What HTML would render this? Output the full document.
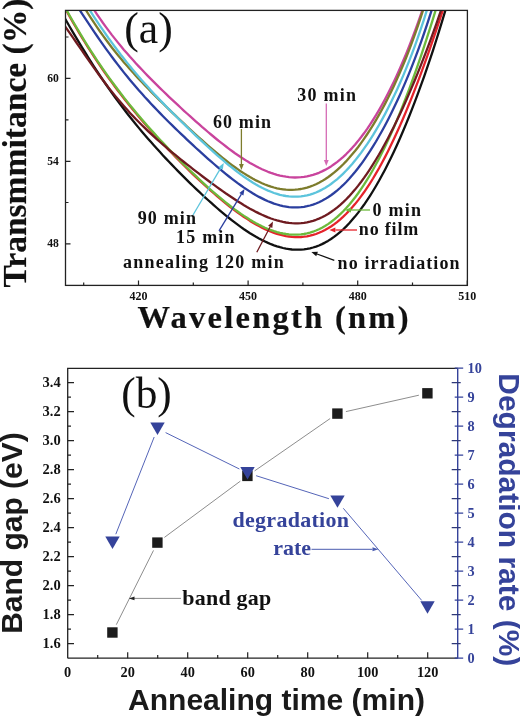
<!DOCTYPE html>
<html><head><meta charset="utf-8"><title>Figure</title>
<style>html,body{margin:0;padding:0;background:#fff;}svg{display:block}.s{font-family:"Liberation Serif",serif;}.sb{font-family:"Liberation Serif",serif;font-weight:bold;}.a{font-family:"Liberation Sans",sans-serif;font-weight:bold;}</style></head><body>
<svg width="520" height="717" viewBox="0 0 520 717">
<rect width="520" height="717" fill="#ffffff"/>
<clipPath id="c1"><rect x="65.5" y="10.4" width="401.9" height="275.0"/></clipPath>
<g clip-path="url(#c1)" fill="none" stroke-width="2.3" stroke-linejoin="round">
<path d="M55.0,1.4 L58.0,6.6 L61.0,11.7 L64.0,16.9 L67.0,22.0 L70.0,27.2 L73.0,32.3 L76.0,37.3 L79.0,42.3 L82.0,47.3 L85.0,52.2 L88.0,57.0 L91.0,61.8 L94.0,66.5 L97.0,71.1 L100.0,75.6 L103.0,80.1 L106.0,84.5 L109.0,88.8 L112.0,93.1 L115.0,97.2 L118.0,101.3 L121.0,105.3 L124.0,109.3 L127.0,113.2 L130.0,117.0 L133.0,120.8 L136.0,124.4 L139.0,128.1 L142.0,131.7 L145.0,135.2 L148.0,138.7 L151.0,142.1 L154.0,145.5 L157.0,148.8 L160.0,152.1 L163.0,155.4 L166.0,158.6 L169.0,161.8 L172.0,164.9 L175.0,168.0 L178.0,171.1 L181.0,174.1 L184.0,177.1 L187.0,180.1 L190.0,183.1 L193.0,186.0 L196.0,188.9 L199.0,191.7 L202.0,194.5 L205.0,197.3 L208.0,200.0 L211.0,202.7 L214.0,205.4 L217.0,208.0 L220.0,210.6 L223.0,213.1 L226.0,215.6 L229.0,218.0 L232.0,220.4 L235.0,222.7 L238.0,224.9 L241.0,227.1 L244.0,229.2 L247.0,231.2 L250.0,233.2 L253.0,235.0 L256.0,236.8 L259.0,238.5 L262.0,240.1 L265.0,241.5 L268.0,242.9 L271.0,244.2 L274.0,245.3 L277.0,246.3 L280.0,247.2 L283.0,248.0 L286.0,248.7 L289.0,249.1 L292.0,249.5 L295.0,249.7 L298.0,249.7 L301.0,249.6 L304.0,249.4 L307.0,248.9 L310.0,248.3 L313.0,247.5 L316.0,246.6 L319.0,245.5 L322.0,244.1 L325.0,242.6 L328.0,240.9 L331.0,239.0 L334.0,236.9 L337.0,234.6 L340.0,232.2 L343.0,229.5 L346.0,226.6 L349.0,223.5 L352.0,220.1 L355.0,216.6 L358.0,212.9 L361.0,208.9 L364.0,204.8 L367.0,200.4 L370.0,195.8 L373.0,191.0 L376.0,186.0 L379.0,180.8 L382.0,175.3 L385.0,169.7 L388.0,163.8 L391.0,157.7 L394.0,151.4 L397.0,144.9 L400.0,138.2 L403.0,131.3 L406.0,124.1 L409.0,116.8 L412.0,109.2 L415.0,101.4 L418.0,93.4 L421.0,85.2 L424.0,76.8 L427.0,68.2 L430.0,59.3 L433.0,50.3 L436.0,41.0 L439.0,31.4 L442.0,21.7 L445.0,11.7 L448.0,1.5 L451.0,-9.0 L454.0,-19.7 L457.0,-30.7" stroke="#111111"/>
<path d="M55.0,-10.3 L58.0,-4.7 L61.0,0.9 L64.0,6.4 L67.0,11.8 L70.0,17.1 L73.0,22.4 L76.0,27.5 L79.0,32.6 L82.0,37.6 L85.0,42.5 L88.0,47.3 L91.0,52.0 L94.0,56.6 L97.0,61.2 L100.0,65.6 L103.0,70.0 L106.0,74.3 L109.0,78.5 L112.0,82.6 L115.0,86.7 L118.0,90.7 L121.0,94.6 L124.0,98.5 L127.0,102.3 L130.0,106.0 L133.0,109.7 L136.0,113.3 L139.0,116.9 L142.0,120.4 L145.0,123.9 L148.0,127.3 L151.0,130.7 L154.0,134.0 L157.0,137.3 L160.0,140.6 L163.0,143.8 L166.0,147.0 L169.0,150.2 L172.0,153.3 L175.0,156.4 L178.0,159.4 L181.0,162.5 L184.0,165.5 L187.0,168.4 L190.0,171.4 L193.0,174.3 L196.0,177.1 L199.0,179.9 L202.0,182.7 L205.0,185.5 L208.0,188.2 L211.0,190.9 L214.0,193.5 L217.0,196.1 L220.0,198.6 L223.0,201.1 L226.0,203.6 L229.0,206.0 L232.0,208.3 L235.0,210.5 L238.0,212.7 L241.0,214.9 L244.0,217.0 L247.0,218.9 L250.0,220.9 L253.0,222.7 L256.0,224.4 L259.0,226.1 L262.0,227.7 L265.0,229.1 L268.0,230.5 L271.0,231.7 L274.0,232.8 L277.0,233.8 L280.0,234.7 L283.0,235.4 L286.0,236.1 L289.0,236.5 L292.0,236.9 L295.0,237.1 L298.0,237.1 L301.0,237.0 L304.0,236.7 L307.0,236.3 L310.0,235.7 L313.0,234.9 L316.0,234.0 L319.0,232.8 L322.0,231.5 L325.0,230.0 L328.0,228.3 L331.0,226.5 L334.0,224.4 L337.0,222.1 L340.0,219.6 L343.0,216.9 L346.0,214.0 L349.0,210.9 L352.0,207.6 L355.0,204.1 L358.0,200.4 L361.0,196.4 L364.0,192.3 L367.0,187.9 L370.0,183.3 L373.0,178.5 L376.0,173.4 L379.0,168.2 L382.0,162.7 L385.0,157.1 L388.0,151.2 L391.0,145.1 L394.0,138.8 L397.0,132.3 L400.0,125.6 L403.0,118.7 L406.0,111.6 L409.0,104.3 L412.0,96.9 L415.0,89.2 L418.0,81.4 L421.0,73.4 L424.0,65.2 L427.0,56.9 L430.0,48.4 L433.0,39.7 L436.0,30.9 L439.0,22.0 L442.0,13.0 L445.0,3.8 L448.0,-5.5 L451.0,-14.9 L454.0,-24.4 L457.0,-34.0" stroke="#e5232b"/>
<path d="M55.0,-11.2 L58.0,-5.6 L61.0,-0.0 L64.0,5.5 L67.0,10.9 L70.0,16.2 L73.0,21.5 L76.0,26.6 L79.0,31.7 L82.0,36.7 L85.0,41.6 L88.0,46.4 L91.0,51.1 L94.0,55.7 L97.0,60.3 L100.0,64.7 L103.0,69.1 L106.0,73.4 L109.0,77.6 L112.0,81.7 L115.0,85.8 L118.0,89.8 L121.0,93.7 L124.0,97.6 L127.0,101.4 L130.0,105.1 L133.0,108.8 L136.0,112.4 L139.0,116.0 L142.0,119.5 L145.0,123.0 L148.0,126.4 L151.0,129.8 L154.0,133.1 L157.0,136.4 L160.0,139.7 L163.0,142.9 L166.0,146.1 L169.0,149.3 L172.0,152.4 L175.0,155.5 L178.0,158.5 L181.0,161.6 L184.0,164.6 L187.0,167.5 L190.0,170.5 L193.0,173.4 L196.0,176.2 L199.0,179.0 L202.0,181.8 L205.0,184.6 L208.0,187.3 L211.0,190.0 L214.0,192.6 L217.0,195.2 L220.0,197.7 L223.0,200.2 L226.0,202.6 L229.0,205.0 L232.0,207.3 L235.0,209.6 L238.0,211.7 L241.0,213.9 L244.0,215.9 L247.0,217.8 L250.0,219.7 L253.0,221.5 L256.0,223.2 L259.0,224.8 L262.0,226.3 L265.0,227.7 L268.0,229.0 L271.0,230.1 L274.0,231.2 L277.0,232.1 L280.0,232.9 L283.0,233.5 L286.0,234.0 L289.0,234.4 L292.0,234.6 L295.0,234.7 L298.0,234.6 L301.0,234.4 L304.0,234.0 L307.0,233.4 L310.0,232.6 L313.0,231.7 L316.0,230.5 L319.0,229.2 L322.0,227.7 L325.0,226.0 L328.0,224.1 L331.0,222.0 L334.0,219.7 L337.0,217.2 L340.0,214.4 L343.0,211.5 L346.0,208.3 L349.0,204.9 L352.0,201.3 L355.0,197.5 L358.0,193.5 L361.0,189.2 L364.0,184.7 L367.0,179.9 L370.0,175.0 L373.0,169.8 L376.0,164.3 L379.0,158.7 L382.0,152.8 L385.0,146.7 L388.0,140.3 L391.0,133.8 L394.0,127.0 L397.0,119.9 L400.0,112.7 L403.0,105.2 L406.0,97.5 L409.0,89.6 L412.0,81.5 L415.0,73.1 L418.0,64.6 L421.0,55.8 L424.0,46.9 L427.0,37.7 L430.0,28.3 L433.0,18.8 L436.0,9.0 L439.0,-1.0 L442.0,-11.1 L445.0,-21.4 L448.0,-31.9 L451.0,-42.6 L454.0,-53.5 L457.0,-64.5" stroke="#6cba3c"/>
<path d="M55.0,-24.9 L58.0,-21.1 L61.0,-17.2 L64.0,-13.0 L67.0,-8.8 L70.0,-4.4 L73.0,0.0 L76.0,4.5 L79.0,9.0 L82.0,13.6 L85.0,18.1 L88.0,22.6 L91.0,27.1 L94.0,31.6 L97.0,36.0 L100.0,40.3 L103.0,44.6 L106.0,48.8 L109.0,52.9 L112.0,57.0 L115.0,61.0 L118.0,64.9 L121.0,68.8 L124.0,72.6 L127.0,76.3 L130.0,79.9 L133.0,83.5 L136.0,87.0 L139.0,90.5 L142.0,93.8 L145.0,97.2 L148.0,100.4 L151.0,103.7 L154.0,106.9 L157.0,110.0 L160.0,113.1 L163.0,116.2 L166.0,119.2 L169.0,122.2 L172.0,125.1 L175.0,128.1 L178.0,131.0 L181.0,133.9 L184.0,136.7 L187.0,139.6 L190.0,142.4 L193.0,145.2 L196.0,148.0 L199.0,150.7 L202.0,153.4 L205.0,156.1 L208.0,158.8 L211.0,161.4 L214.0,164.0 L217.0,166.6 L220.0,169.1 L223.0,171.6 L226.0,174.1 L229.0,176.5 L232.0,178.8 L235.0,181.1 L238.0,183.4 L241.0,185.5 L244.0,187.6 L247.0,189.6 L250.0,191.6 L253.0,193.4 L256.0,195.2 L259.0,196.9 L262.0,198.4 L265.0,199.9 L268.0,201.2 L271.0,202.4 L274.0,203.6 L277.0,204.5 L280.0,205.4 L283.0,206.1 L286.0,206.6 L289.0,207.1 L292.0,207.3 L295.0,207.4 L298.0,207.4 L301.0,207.2 L304.0,206.8 L307.0,206.2 L310.0,205.5 L313.0,204.6 L316.0,203.5 L319.0,202.2 L322.0,200.7 L325.0,199.1 L328.0,197.2 L331.0,195.2 L334.0,193.0 L337.0,190.6 L340.0,188.0 L343.0,185.2 L346.0,182.2 L349.0,179.0 L352.0,175.6 L355.0,172.0 L358.0,168.2 L361.0,164.3 L364.0,160.1 L367.0,155.7 L370.0,151.2 L373.0,146.4 L376.0,141.5 L379.0,136.3 L382.0,131.0 L385.0,125.5 L388.0,119.7 L391.0,113.8 L394.0,107.6 L397.0,101.3 L400.0,94.7 L403.0,87.9 L406.0,80.9 L409.0,73.6 L412.0,66.1 L415.0,58.4 L418.0,50.4 L421.0,42.1 L424.0,33.5 L427.0,24.6 L430.0,15.4 L433.0,5.9 L436.0,-4.1 L439.0,-14.4 L442.0,-25.2 L445.0,-36.4 L448.0,-48.1 L451.0,-60.3 L454.0,-73.1 L457.0,-86.5" stroke="#2b3f9f"/>
<path d="M55.0,-64.7 L58.0,-57.8 L61.0,-51.1 L64.0,-44.6 L67.0,-38.3 L70.0,-32.3 L73.0,-26.4 L76.0,-20.7 L79.0,-15.2 L82.0,-9.9 L85.0,-4.8 L88.0,0.2 L91.0,5.1 L94.0,9.7 L97.0,14.3 L100.0,18.7 L103.0,23.0 L106.0,27.1 L109.0,31.1 L112.0,35.1 L115.0,38.9 L118.0,42.6 L121.0,46.3 L124.0,49.9 L127.0,53.3 L130.0,56.8 L133.0,60.1 L136.0,63.4 L139.0,66.6 L142.0,69.8 L145.0,73.0 L148.0,76.1 L151.0,79.1 L154.0,82.1 L157.0,85.1 L160.0,88.1 L163.0,91.0 L166.0,93.9 L169.0,96.8 L172.0,99.6 L175.0,102.4 L178.0,105.2 L181.0,108.0 L184.0,110.8 L187.0,113.5 L190.0,116.2 L193.0,118.9 L196.0,121.6 L199.0,124.2 L202.0,126.9 L205.0,129.4 L208.0,132.0 L211.0,134.5 L214.0,137.0 L217.0,139.5 L220.0,141.9 L223.0,144.2 L226.0,146.5 L229.0,148.8 L232.0,151.0 L235.0,153.2 L238.0,155.2 L241.0,157.3 L244.0,159.2 L247.0,161.1 L250.0,162.9 L253.0,164.6 L256.0,166.2 L259.0,167.8 L262.0,169.2 L265.0,170.5 L268.0,171.8 L271.0,172.9 L274.0,173.9 L277.0,174.8 L280.0,175.6 L283.0,176.2 L286.0,176.7 L289.0,177.1 L292.0,177.4 L295.0,177.5 L298.0,177.4 L301.0,177.2 L304.0,176.9 L307.0,176.4 L310.0,175.7 L313.0,174.9 L316.0,173.9 L319.0,172.8 L322.0,171.4 L325.0,169.9 L328.0,168.2 L331.0,166.4 L334.0,164.3 L337.0,162.1 L340.0,159.7 L343.0,157.1 L346.0,154.3 L349.0,151.3 L352.0,148.1 L355.0,144.7 L358.0,141.1 L361.0,137.3 L364.0,133.3 L367.0,129.1 L370.0,124.6 L373.0,120.0 L376.0,115.2 L379.0,110.1 L382.0,104.8 L385.0,99.3 L388.0,93.5 L391.0,87.6 L394.0,81.4 L397.0,74.9 L400.0,68.2 L403.0,61.3 L406.0,54.1 L409.0,46.6 L412.0,38.9 L415.0,30.9 L418.0,22.6 L421.0,14.1 L424.0,5.2 L427.0,-4.0 L430.0,-13.5 L433.0,-23.4 L436.0,-33.6 L439.0,-44.1 L442.0,-55.1 L445.0,-66.4 L448.0,-78.2 L451.0,-90.4 L454.0,-103.0 L457.0,-116.1" stroke="#c9449d"/>
<path d="M55.0,-47.1 L58.0,-40.9 L61.0,-34.9 L64.0,-29.0 L67.0,-23.2 L70.0,-17.5 L73.0,-12.0 L76.0,-6.7 L79.0,-1.4 L82.0,3.7 L85.0,8.6 L88.0,13.5 L91.0,18.2 L94.0,22.7 L97.0,27.2 L100.0,31.5 L103.0,35.7 L106.0,39.8 L109.0,43.8 L112.0,47.7 L115.0,51.5 L118.0,55.2 L121.0,58.8 L124.0,62.4 L127.0,65.8 L130.0,69.2 L133.0,72.6 L136.0,75.9 L139.0,79.1 L142.0,82.3 L145.0,85.4 L148.0,88.5 L151.0,91.6 L154.0,94.6 L157.0,97.6 L160.0,100.6 L163.0,103.5 L166.0,106.5 L169.0,109.4 L172.0,112.3 L175.0,115.2 L178.0,118.0 L181.0,120.9 L184.0,123.7 L187.0,126.5 L190.0,129.3 L193.0,132.1 L196.0,134.8 L199.0,137.5 L202.0,140.2 L205.0,142.9 L208.0,145.5 L211.0,148.1 L214.0,150.7 L217.0,153.2 L220.0,155.7 L223.0,158.1 L226.0,160.5 L229.0,162.8 L232.0,165.1 L235.0,167.3 L238.0,169.4 L241.0,171.5 L244.0,173.4 L247.0,175.3 L250.0,177.1 L253.0,178.8 L256.0,180.4 L259.0,181.8 L262.0,183.2 L265.0,184.5 L268.0,185.6 L271.0,186.6 L274.0,187.5 L277.0,188.3 L280.0,188.9 L283.0,189.3 L286.0,189.7 L289.0,189.8 L292.0,189.9 L295.0,189.7 L298.0,189.4 L301.0,189.0 L304.0,188.3 L307.0,187.6 L310.0,186.6 L313.0,185.5 L316.0,184.2 L319.0,182.7 L322.0,181.1 L325.0,179.2 L328.0,177.2 L331.0,175.0 L334.0,172.7 L337.0,170.1 L340.0,167.4 L343.0,164.5 L346.0,161.4 L349.0,158.1 L352.0,154.6 L355.0,151.0 L358.0,147.2 L361.0,143.1 L364.0,138.9 L367.0,134.5 L370.0,129.9 L373.0,125.1 L376.0,120.1 L379.0,114.9 L382.0,109.5 L385.0,103.9 L388.0,98.0 L391.0,92.0 L394.0,85.7 L397.0,79.1 L400.0,72.3 L403.0,65.3 L406.0,58.0 L409.0,50.3 L412.0,42.4 L415.0,34.1 L418.0,25.5 L421.0,16.6 L424.0,7.2 L427.0,-2.6 L430.0,-12.8 L433.0,-23.5 L436.0,-34.7 L439.0,-46.4 L442.0,-58.7 L445.0,-71.7 L448.0,-85.3 L451.0,-99.7 L454.0,-114.8 L457.0,-130.8" stroke="#7d7c2c"/>
<path d="M55.0,-43.0 L58.0,-38.9 L61.0,-34.6 L64.0,-30.2 L67.0,-25.6 L70.0,-20.9 L73.0,-16.2 L76.0,-11.5 L79.0,-6.7 L82.0,-2.0 L85.0,2.8 L88.0,7.5 L91.0,12.1 L94.0,16.8 L97.0,21.3 L100.0,25.8 L103.0,30.2 L106.0,34.5 L109.0,38.8 L112.0,42.9 L115.0,47.0 L118.0,51.0 L121.0,55.0 L124.0,58.8 L127.0,62.6 L130.0,66.3 L133.0,69.9 L136.0,73.5 L139.0,77.0 L142.0,80.4 L145.0,83.8 L148.0,87.1 L151.0,90.4 L154.0,93.7 L157.0,96.9 L160.0,100.0 L163.0,103.1 L166.0,106.2 L169.0,109.3 L172.0,112.3 L175.0,115.3 L178.0,118.3 L181.0,121.3 L184.0,124.2 L187.0,127.1 L190.0,130.0 L193.0,132.9 L196.0,135.8 L199.0,138.6 L202.0,141.4 L205.0,144.2 L208.0,147.0 L211.0,149.7 L214.0,152.4 L217.0,155.1 L220.0,157.7 L223.0,160.2 L226.0,162.8 L229.0,165.3 L232.0,167.7 L235.0,170.0 L238.0,172.3 L241.0,174.6 L244.0,176.7 L247.0,178.8 L250.0,180.8 L253.0,182.7 L256.0,184.5 L259.0,186.2 L262.0,187.8 L265.0,189.2 L268.0,190.6 L271.0,191.8 L274.0,193.0 L277.0,193.9 L280.0,194.8 L283.0,195.5 L286.0,196.0 L289.0,196.4 L292.0,196.6 L295.0,196.7 L298.0,196.6 L301.0,196.4 L304.0,195.9 L307.0,195.3 L310.0,194.6 L313.0,193.6 L316.0,192.5 L319.0,191.1 L322.0,189.6 L325.0,187.9 L328.0,186.1 L331.0,184.0 L334.0,181.7 L337.0,179.3 L340.0,176.7 L343.0,173.8 L346.0,170.8 L349.0,167.6 L352.0,164.2 L355.0,160.6 L358.0,156.8 L361.0,152.9 L364.0,148.7 L367.0,144.4 L370.0,139.8 L373.0,135.1 L376.0,130.1 L379.0,125.0 L382.0,119.6 L385.0,114.1 L388.0,108.3 L391.0,102.3 L394.0,96.1 L397.0,89.7 L400.0,83.0 L403.0,76.1 L406.0,68.9 L409.0,61.4 L412.0,53.7 L415.0,45.6 L418.0,37.2 L421.0,28.4 L424.0,19.3 L427.0,9.7 L430.0,-0.3 L433.0,-10.7 L436.0,-21.7 L439.0,-33.2 L442.0,-45.3 L445.0,-58.0 L448.0,-71.4 L451.0,-85.6 L454.0,-100.5 L457.0,-116.4" stroke="#5cc4dc"/>
<path d="M55.0,13.4 L58.0,17.0 L61.0,20.9 L64.0,24.9 L67.0,29.1 L70.0,33.3 L73.0,37.6 L76.0,42.0 L79.0,46.3 L82.0,50.7 L85.0,55.1 L88.0,59.4 L91.0,63.7 L94.0,67.9 L97.0,72.1 L100.0,76.2 L103.0,80.2 L106.0,84.2 L109.0,88.1 L112.0,91.9 L115.0,95.6 L118.0,99.2 L121.0,102.7 L124.0,106.2 L127.0,109.6 L130.0,112.9 L133.0,116.1 L136.0,119.2 L139.0,122.3 L142.0,125.3 L145.0,128.2 L148.0,131.1 L151.0,133.9 L154.0,136.6 L157.0,139.4 L160.0,142.0 L163.0,144.6 L166.0,147.2 L169.0,149.8 L172.0,152.3 L175.0,154.7 L178.0,157.2 L181.0,159.6 L184.0,162.0 L187.0,164.4 L190.0,166.7 L193.0,169.1 L196.0,171.4 L199.0,173.7 L202.0,176.0 L205.0,178.2 L208.0,180.5 L211.0,182.7 L214.0,184.9 L217.0,187.1 L220.0,189.2 L223.0,191.4 L226.0,193.5 L229.0,195.5 L232.0,197.5 L235.0,199.5 L238.0,201.5 L241.0,203.3 L244.0,205.2 L247.0,207.0 L250.0,208.7 L253.0,210.3 L256.0,211.9 L259.0,213.4 L262.0,214.8 L265.0,216.1 L268.0,217.4 L271.0,218.5 L274.0,219.5 L277.0,220.4 L280.0,221.2 L283.0,221.9 L286.0,222.5 L289.0,222.9 L292.0,223.2 L295.0,223.3 L298.0,223.3 L301.0,223.1 L304.0,222.8 L307.0,222.3 L310.0,221.6 L313.0,220.8 L316.0,219.8 L319.0,218.6 L322.0,217.3 L325.0,215.7 L328.0,214.0 L331.0,212.0 L334.0,209.9 L337.0,207.6 L340.0,205.1 L343.0,202.4 L346.0,199.5 L349.0,196.4 L352.0,193.1 L355.0,189.6 L358.0,185.9 L361.0,182.0 L364.0,177.9 L367.0,173.6 L370.0,169.1 L373.0,164.4 L376.0,159.5 L379.0,154.5 L382.0,149.2 L385.0,143.8 L388.0,138.2 L391.0,132.4 L394.0,126.4 L397.0,120.3 L400.0,113.9 L403.0,107.4 L406.0,100.8 L409.0,93.9 L412.0,86.9 L415.0,79.8 L418.0,72.4 L421.0,64.9 L424.0,57.2 L427.0,49.4 L430.0,41.4 L433.0,33.2 L436.0,24.8 L439.0,16.2 L442.0,7.5 L445.0,-1.5 L448.0,-10.7 L451.0,-20.1 L454.0,-29.7 L457.0,-39.6" stroke="#6f1b20"/>
</g>
<rect x="65.5" y="10.4" width="401.9" height="275.0" fill="none" stroke="#222" stroke-width="1.3"/>
<path d="M83.7,285.4v-3 M138.5,285.4v-5 M193.3,285.4v-3 M248.1,285.4v-5 M302.9,285.4v-3 M357.7,285.4v-5 M412.5,285.4v-3 M467.3,285.4v-5 M65.5,78.3h5 M65.5,119.8h3 M65.5,161.3h5 M65.5,202.5h3 M65.5,243.8h5 M65.5,37h3" stroke="#222" stroke-width="1.2" fill="none"/>
<text class="sb" x="129.5" y="299.6" font-size="11.6" fill="#111" textLength="18" lengthAdjust="spacingAndGlyphs">420</text>
<text class="sb" x="239.1" y="299.6" font-size="11.6" fill="#111" textLength="18" lengthAdjust="spacingAndGlyphs">450</text>
<text class="sb" x="348.7" y="299.6" font-size="11.6" fill="#111" textLength="18" lengthAdjust="spacingAndGlyphs">480</text>
<text class="sb" x="458.3" y="299.6" font-size="11.6" fill="#111" textLength="18" lengthAdjust="spacingAndGlyphs">510</text>
<text class="sb" x="47.3" y="81.9" font-size="11.6" fill="#111" textLength="11.6" lengthAdjust="spacingAndGlyphs">60</text>
<text class="sb" x="47.3" y="164.9" font-size="11.6" fill="#111" textLength="11.6" lengthAdjust="spacingAndGlyphs">54</text>
<text class="sb" x="47.3" y="247.4" font-size="11.6" fill="#111" textLength="11.6" lengthAdjust="spacingAndGlyphs">48</text>
<text class="sb" x="137.5" y="327.6" font-size="32.5" fill="#111" stroke="#111" stroke-width="0.2" textLength="271" lengthAdjust="spacing">Wavelength (nm)</text>
<text class="sb" transform="translate(26.2,287.6) rotate(-90) scale(1,1.04)" font-size="33" fill="#111" stroke="#111" stroke-width="0.2" textLength="289" lengthAdjust="spacingAndGlyphs">Transmmitance (%)</text>
<text class="s" x="124.3" y="43.3" font-size="43.5" fill="#111" textLength="48.5" lengthAdjust="spacingAndGlyphs">(a)</text>
<text class="sb" x="297.3" y="101" font-size="18" fill="#111"  textLength="58.7" lengthAdjust="spacing">30 min</text>
<text class="sb" x="213" y="127.8" font-size="18" fill="#111"  textLength="58" lengthAdjust="spacing">60 min</text>
<text class="sb" x="137.7" y="223.7" font-size="18" fill="#111"  textLength="58.3" lengthAdjust="spacing">90 min</text>
<text class="sb" x="176" y="243" font-size="18" fill="#111"  textLength="58.6" lengthAdjust="spacing">15 min</text>
<text class="sb" x="123" y="267.7" font-size="18" fill="#111"  textLength="160.8" lengthAdjust="spacing">annealing 120 min</text>
<text class="sb" x="372.5" y="215.5" font-size="18" fill="#111"  textLength="48.5" lengthAdjust="spacing">0 min</text>
<text class="sb" x="358.8" y="234.5" font-size="18" fill="#111"  textLength="59.5" lengthAdjust="spacing">no film</text>
<text class="sb" x="337.6" y="269.4" font-size="18" fill="#111"  textLength="122" lengthAdjust="spacing">no irradiation</text>
<path d="M326.3,103.5L326.3,160.0" stroke="#d56bb5" stroke-width="1.3" fill="none"/>
<path d="M326.3,166.0L323.9,160.0L328.7,160.0Z" fill="#d56bb5"/>
<path d="M241.4,129.0L241.4,164.0" stroke="#7d7c2c" stroke-width="1.3" fill="none"/>
<path d="M241.4,170.0L239.0,164.0L243.8,164.0Z" fill="#7d7c2c"/>
<path d="M193.0,215.0L220.7,168.2" stroke="#5cc4dc" stroke-width="1.3" fill="none"/>
<path d="M223.8,163.0L222.8,169.4L218.7,166.9Z" fill="#5cc4dc"/>
<path d="M219.0,230.8L241.4,194.1" stroke="#2b3f9f" stroke-width="1.3" fill="none"/>
<path d="M244.5,189.0L243.4,195.4L239.3,192.9Z" fill="#2b3f9f"/>
<path d="M256.8,252.3L270.2,226.8" stroke="#6f1b20" stroke-width="1.3" fill="none"/>
<path d="M273.0,221.5L272.3,227.9L268.1,225.7Z" fill="#6f1b20"/>
<path d="M370.0,210.0L351.0,210.0" stroke="#6cba3c" stroke-width="1.3" fill="none"/>
<path d="M345.0,210.0L351.0,207.6L351.0,212.4Z" fill="#6cba3c"/>
<path d="M357.0,230.0L335.4,230.0" stroke="#e5232b" stroke-width="1.3" fill="none"/>
<path d="M329.4,230.0L335.4,227.6L335.4,232.4Z" fill="#e5232b"/>
<path d="M334.3,260.3L317.0,254.0" stroke="#111" stroke-width="1.3" fill="none"/>
<path d="M311.4,252.0L317.9,251.8L316.2,256.3Z" fill="#111"/>
<path d="M67.7,658.2V368.4H457.7" fill="none" stroke="#222" stroke-width="1.3"/>
<path d="M67.7,658.2H457.7" fill="none" stroke="#222" stroke-width="1.3"/>
<path d="M457.7,368.4V658.2" fill="none" stroke="#35439a" stroke-width="1.4"/>
<path d="M97.7,658.2v-3.3 M127.7,658.2v-6 M157.7,658.2v-3.3 M187.7,658.2v-6 M217.7,658.2v-3.3 M247.7,658.2v-6 M277.7,658.2v-3.3 M307.7,658.2v-6 M337.7,658.2v-3.3 M367.7,658.2v-6 M397.7,658.2v-3.3 M427.7,658.2v-6 M67.7,643.7h6.3 M67.7,629.2h3.3 M67.7,614.7h6.3 M67.7,600.2h3.3 M67.7,585.7h6.3 M67.7,571.2h3.3 M67.7,556.7h6.3 M67.7,542.2h3.3 M67.7,527.7h6.3 M67.7,513.2h3.3 M67.7,498.7h6.3 M67.7,484.2h3.3 M67.7,469.7h6.3 M67.7,455.2h3.3 M67.7,440.7h6.3 M67.7,426.2h3.3 M67.7,411.7h6.3 M67.7,397.2h3.3 M67.7,382.7h6.3" stroke="#222" stroke-width="1.2" fill="none"/>
<path d="M454.7,658.2h8.5 M454.7,629.2h8.5 M454.7,600.2h8.5 M454.7,571.2h8.5 M454.7,542.2h8.5 M454.7,513.2h8.5 M454.7,484.2h8.5 M454.7,455.2h8.5 M454.7,426.2h8.5 M454.7,397.2h8.5 M454.7,368.2h8.5" stroke="#35439a" stroke-width="1.2" fill="none"/>
<path d="M451.7,643.7h9 M451.7,614.7h9 M451.7,585.7h9 M451.7,556.7h9 M451.7,527.7h9 M451.7,498.7h9 M451.7,469.7h9 M451.7,440.7h9 M451.7,411.7h9 M451.7,382.7h9" stroke="#2e3878" stroke-width="1.2" fill="none"/>
<text class="sb" x="67.7" y="677.3" font-size="14.3" text-anchor="middle" fill="#111">0</text>
<text class="sb" x="127.7" y="677.3" font-size="14.3" text-anchor="middle" fill="#111">20</text>
<text class="sb" x="187.7" y="677.3" font-size="14.3" text-anchor="middle" fill="#111">40</text>
<text class="sb" x="247.7" y="677.3" font-size="14.3" text-anchor="middle" fill="#111">60</text>
<text class="sb" x="307.7" y="677.3" font-size="14.3" text-anchor="middle" fill="#111">80</text>
<text class="sb" x="367.7" y="677.3" font-size="14.3" text-anchor="middle" fill="#111">100</text>
<text class="sb" x="427.7" y="677.3" font-size="14.3" text-anchor="middle" fill="#111">120</text>
<text class="sb" x="60.7" y="648.3" font-size="14.5" text-anchor="end" fill="#111">1.6</text>
<text class="sb" x="60.7" y="619.3" font-size="14.5" text-anchor="end" fill="#111">1.8</text>
<text class="sb" x="60.7" y="590.3" font-size="14.5" text-anchor="end" fill="#111">2.0</text>
<text class="sb" x="60.7" y="561.3" font-size="14.5" text-anchor="end" fill="#111">2.2</text>
<text class="sb" x="60.7" y="532.3" font-size="14.5" text-anchor="end" fill="#111">2.4</text>
<text class="sb" x="60.7" y="503.3" font-size="14.5" text-anchor="end" fill="#111">2.6</text>
<text class="sb" x="60.7" y="474.3" font-size="14.5" text-anchor="end" fill="#111">2.8</text>
<text class="sb" x="60.7" y="445.3" font-size="14.5" text-anchor="end" fill="#111">3.0</text>
<text class="sb" x="60.7" y="416.3" font-size="14.5" text-anchor="end" fill="#111">3.2</text>
<text class="sb" x="60.7" y="387.3" font-size="14.5" text-anchor="end" fill="#111">3.4</text>
<text class="sb" x="467.5" y="662.8" font-size="14.3" fill="#35439a">0</text>
<text class="sb" x="467.5" y="633.8" font-size="14.3" fill="#35439a">1</text>
<text class="sb" x="467.5" y="604.8" font-size="14.3" fill="#35439a">2</text>
<text class="sb" x="467.5" y="575.8" font-size="14.3" fill="#35439a">3</text>
<text class="sb" x="467.5" y="546.8" font-size="14.3" fill="#35439a">4</text>
<text class="sb" x="467.5" y="517.8" font-size="14.3" fill="#35439a">5</text>
<text class="sb" x="467.5" y="488.8" font-size="14.3" fill="#35439a">6</text>
<text class="sb" x="467.5" y="459.8" font-size="14.3" fill="#35439a">7</text>
<text class="sb" x="467.5" y="430.8" font-size="14.3" fill="#35439a">8</text>
<text class="sb" x="467.5" y="401.8" font-size="14.3" fill="#35439a">9</text>
<text class="sb" x="467.5" y="372.8" font-size="14.3" fill="#35439a">10</text>
<path d="M115.8,534.2L154.2,437.0" stroke="#5565b8" stroke-width="1.0" fill="none"/>
<path d="M165.6,432.6L239.4,469.0" stroke="#5565b8" stroke-width="1.0" fill="none"/>
<path d="M256.1,475.7L328.9,498.7" stroke="#5565b8" stroke-width="1.0" fill="none"/>
<path d="M343.3,508.3L421.7,600.4" stroke="#5565b8" stroke-width="1.0" fill="none"/>
<path d="M116.3,624.7L153.5,550.4" stroke="#808080" stroke-width="0.9" fill="none"/>
<path d="M164.4,537.4L240.4,481.1" stroke="#808080" stroke-width="0.9" fill="none"/>
<path d="M254.6,470.9L330.2,418.5" stroke="#808080" stroke-width="0.9" fill="none"/>
<path d="M345.9,411.6L418.9,395.2" stroke="#808080" stroke-width="0.9" fill="none"/>
<rect x="107.2" y="627.3" width="10.4" height="10.4" fill="#1c1c1c"/>
<rect x="152.2" y="537.4" width="10.4" height="10.4" fill="#1c1c1c"/>
<rect x="242.2" y="470.7" width="10.4" height="10.4" fill="#1c1c1c"/>
<rect x="332.2" y="408.4" width="10.4" height="10.4" fill="#1c1c1c"/>
<rect x="422.2" y="388.1" width="10.4" height="10.4" fill="#1c1c1c"/>
<path d="M105.3,536.6h14.4l-7.2,12.4z" fill="#35439a"/>
<path d="M150.3,422.6h14.4l-7.2,12.4z" fill="#35439a"/>
<path d="M240.3,467.0h14.4l-7.2,12.4z" fill="#35439a"/>
<path d="M330.3,495.4h14.4l-7.2,12.4z" fill="#35439a"/>
<path d="M420.3,601.3h14.4l-7.2,12.4z" fill="#35439a"/>
<text class="s" x="121.3" y="408.2" font-size="43.5" fill="#111" textLength="50.5" lengthAdjust="spacingAndGlyphs">(b)</text>
<text class="sb" x="232.5" y="526.8" font-size="22" fill="#35439a"  textLength="116.5" lengthAdjust="spacing">degradation</text>
<text class="sb" x="273.2" y="554.5" font-size="22" fill="#35439a"  textLength="37.8" lengthAdjust="spacing">rate</text>
<text class="sb" x="182.3" y="604.6" font-size="22" fill="#111"  textLength="89" lengthAdjust="spacing">band gap</text>
<path d="M311.5,549.3L372.5,549.3" stroke="#4a5cb0" stroke-width="1.0" fill="none"/>
<path d="M378.5,549.3L372.5,551.3L372.5,547.3Z" fill="#4a5cb0"/>
<path d="M181.0,598.4L129.1,598.4" stroke="#808080" stroke-width="0.9" fill="none"/>
<path d="M129.0,598.4L129.1,598.3L129.1,598.5Z" fill="#808080"/>
<path d="M129,598.4l5.5,-1.8v3.6z" fill="#222"/>
<text class="a" x="128" y="710" font-size="29.3" fill="#1a1a1a" textLength="297" lengthAdjust="spacingAndGlyphs">Annealing time (min)</text>
<text class="a" transform="translate(21.9,633.8) rotate(-90)" font-size="29.5" fill="#1a1a1a" textLength="201.5" lengthAdjust="spacingAndGlyphs">Band gap (eV)</text>
<text class="a" transform="translate(498.6,373.3) rotate(90)" font-size="29.3" fill="#35439a" textLength="293" lengthAdjust="spacingAndGlyphs">Degradation rate (%)</text>
</svg></body></html>
